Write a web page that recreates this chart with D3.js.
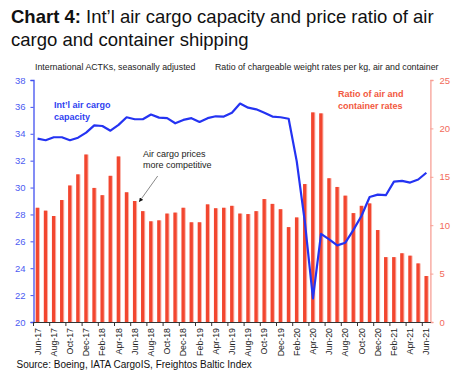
<!DOCTYPE html>
<html>
<head>
<meta charset="utf-8">
<script src="https://cdn.jsdelivr.net/npm/d3@7"></script>
<style>
  body { margin: 0; background: #fff; }
  svg { display: block; font-family: "Liberation Sans", Arial, sans-serif; }
</style>
</head>
<body>
<svg id="chart" width="475" height="381"></svg>
<script>
// months shown on the x axis (one bar / point per month)
var months = ["Jun-17","Jul-17","Aug-17","Sep-17","Oct-17","Nov-17","Dec-17","Jan-18","Feb-18","Mar-18",
  "Apr-18","May-18","Jun-18","Jul-18","Aug-18","Sep-18","Oct-18","Nov-18","Dec-18","Jan-19",
  "Feb-19","Mar-19","Apr-19","May-19","Jun-19","Jul-19","Aug-19","Sep-19","Oct-19","Nov-19",
  "Dec-19","Jan-20","Feb-20","Mar-20","Apr-20","May-20","Jun-20","Jul-20","Aug-20","Sep-20",
  "Oct-20","Nov-20","Dec-20","Jan-21","Feb-21","Mar-21","Apr-21","May-21","Jun-21"];

// Int'l air cargo capacity (ACTKs, left axis)
var capacity = [33.64,33.52,33.74,33.74,33.52,33.71,34.09,34.63,34.58,34.23,
  34.66,35.23,35.08,35.08,35.43,35.2,35.16,34.78,35.03,35.16,
  34.88,35.16,35.3,35.28,35.57,36.25,35.94,35.82,35.57,35.28,
  35.23,35.12,31.95,27.45,21.76,26.55,26.15,25.7,25.9,26.85,
  27.9,29.3,29.47,29.43,30.44,30.5,30.37,30.6,31.1];

// ratio of air and container rates (right axis)
var ratio = [11.8,11.5,10.95,12.6,14.1,15.25,17.3,13.85,13.1,15.1,
  17.1,13.4,12.5,11.45,10.4,10.5,11.2,11.3,11.8,10.3,
  10.3,12.15,11.75,11.8,12.0,11.2,11.15,11.45,12.7,12.2,
  11.65,9.8,10.8,14.25,21.65,21.55,14.85,13.95,13.05,11.25,
  12.0,12.25,9.5,6.7,6.7,7.1,6.85,6.05,4.75];

var leftTicks = [20,22,24,26,28,30,32,34,36,38];
var rightTicks = [0,5,10,15,20,25];

var svg = d3.select("#chart");

var x = d3.scaleBand().domain(months).range([33.5, 430.4]).paddingInner(0).paddingOuter(0);
var yL = d3.scaleLinear().domain([20, 38]).range([322, 80]);
var yR = d3.scaleLinear().domain([0, 25]).range([322, 80]);
var bw = x.bandwidth();

// title
var title = svg.append("text").attr("x", 11).attr("y", 23).attr("font-size", 18.5).attr("fill", "#111");
title.append("tspan").attr("font-weight", "bold").text("Chart 4:");
title.append("tspan").text(" Int\u2019l air cargo capacity and price ratio of air");
svg.append("text").attr("x", 11).attr("y", 46).attr("font-size", 18.5).attr("fill", "#111")
  .text("cargo and container shipping");

svg.append("text").attr("x", 35).attr("y", 70).attr("font-size", 8.8).attr("fill", "#222")
  .text("International ACTKs, seasonally adjusted");
svg.append("text").attr("x", 215).attr("y", 70).attr("font-size", 8.8).attr("fill", "#222")
  .text("Ratio of chargeable weight rates per kg, air and container");

// bars
svg.append("g").selectAll("rect").data(ratio).enter().append("rect")
  .attr("x", (d, i) => x(months[i]) + bw / 2 - 1.8)
  .attr("width", 4.2)
  .attr("y", d => yR(d))
  .attr("height", d => yR(0) - yR(d))
  .attr("fill", "#f9b4aa");
svg.append("g").selectAll("rect").data(ratio).enter().append("rect")
  .attr("x", (d, i) => x(months[i]) + bw / 2 - 1.8)
  .attr("width", 3.2)
  .attr("y", d => yR(d))
  .attr("height", d => yR(0) - yR(d))
  .attr("fill", "#f2462f");

// capacity line
var line = d3.line()
  .x((d, i) => x(months[i]) + bw / 2)
  .y(d => yL(d));
svg.append("path").datum(capacity)
  .attr("d", line)
  .attr("fill", "none")
  .attr("stroke", "#2433f2")
  .attr("stroke-width", 2.2)
  .attr("stroke-linejoin", "round");

// left axis
var gL = svg.append("g").attr("transform", "translate(33.5,0)")
  .call(d3.axisLeft(yL).tickValues(leftTicks).tickSize(3).tickPadding(5));
gL.select(".domain").attr("stroke", "#4150f0").attr("stroke-width", 1.3);
gL.selectAll(".tick line").attr("stroke", "#4150f0");
gL.selectAll(".tick text").attr("fill", "#4d5cf2").attr("font-size", 9.5)
  .attr("font-family", "Liberation Sans, Arial, sans-serif");

// right axis
var gR = svg.append("g").attr("transform", "translate(430.4,0)")
  .call(d3.axisRight(yR).tickValues(rightTicks).tickSize(3).tickPadding(6));
gR.select(".domain").attr("stroke", "#f7a096").attr("stroke-width", 1.3);
gR.selectAll(".tick line").attr("stroke", "#f7a096");
gR.selectAll(".tick text").attr("fill", "#f26a5a").attr("font-size", 9.5)
  .attr("font-family", "Liberation Sans, Arial, sans-serif");

// bottom axis, labels every other month
var gB = svg.append("g").attr("transform", "translate(0,322)")
  .call(d3.axisBottom(x).tickValues(months.filter((m, i) => i % 2 == 0)).tickSize(4).tickSizeOuter(0));
gB.select(".domain").attr("stroke", "#333");
gB.selectAll(".tick line").attr("stroke", "#333").attr("x1", -bw / 2).attr("x2", -bw / 2);
gB.selectAll(".tick text")
  .attr("font-size", 8.8)
  .attr("fill", "#222")
  .attr("font-family", "Liberation Sans, Arial, sans-serif")
  .attr("text-anchor", "end")
  .attr("transform", "rotate(-90)")
  .attr("x", -6)
  .attr("y", 0)
  .attr("dy", "0.35em");

// series labels
var lab1 = svg.append("text").attr("font-size", 9).attr("font-weight", "bold").attr("fill", "#2f3ff0");
lab1.append("tspan").attr("x", 54).attr("y", 108).text("Int\u2019l air cargo");
lab1.append("tspan").attr("x", 54).attr("y", 120).text("capacity");
var lab2 = svg.append("text").attr("font-size", 9).attr("font-weight", "bold").attr("fill", "#f2583e");
lab2.append("tspan").attr("x", 338).attr("y", 97).text("Ratio of air and");
lab2.append("tspan").attr("x", 338).attr("y", 108.5).text("container rates");

// annotation
svg.append("defs").append("marker")
  .attr("id", "arr").attr("viewBox", "0 0 10 10").attr("refX", 9).attr("refY", 5)
  .attr("markerWidth", 6).attr("markerHeight", 6).attr("orient", "auto")
  .append("path").attr("d", "M0,0L10,5L0,10z").attr("fill", "#111");
svg.append("line")
  .attr("x1", 157.7).attr("y1", 176).attr("x2", 139.3).attr("y2", 201.7)
  .attr("stroke", "#555").attr("stroke-width", 0.7).attr("marker-end", "url(#arr)");
var ann = svg.append("text").attr("font-size", 9).attr("fill", "#222");
ann.append("tspan").attr("x", 143).attr("y", 156.5).text("Air cargo prices");
ann.append("tspan").attr("x", 143).attr("y", 167.5).text("more competitive");

// source
svg.append("text").attr("x", 16.5).attr("y", 368).attr("font-size", 10).attr("fill", "#111")
  .text("Source: Boeing, IATA CargoIS, Freightos Baltic Index");
</script>
</body>
</html>
